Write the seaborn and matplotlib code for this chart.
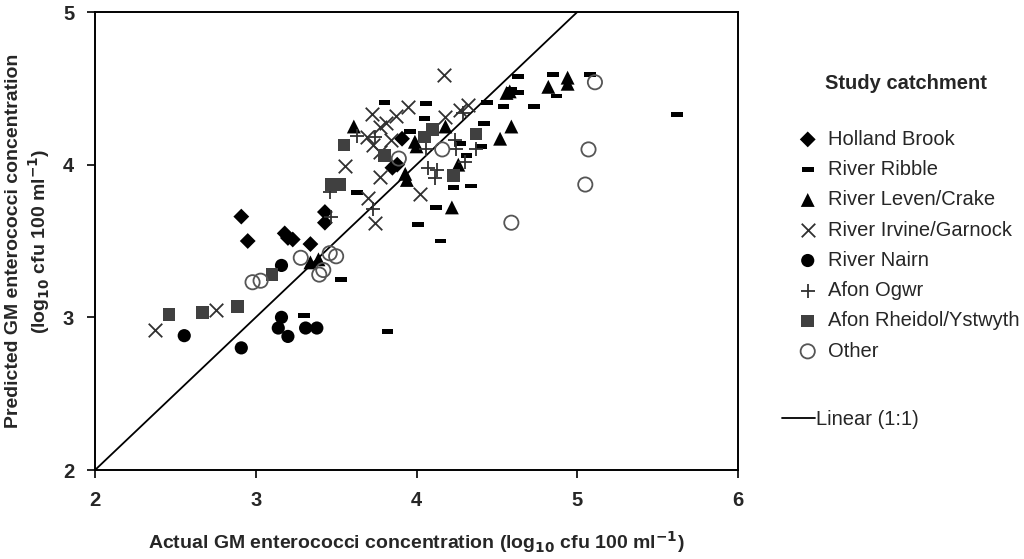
import numpy as np
import pandas as pd
import seaborn as sns
import matplotlib.pyplot as plt
from matplotlib.path import Path

# actual vs predicted GM enterococci (log10 cfu 100 ml-1)
holland_x = [2.91, 2.95, 3.18, 3.20, 3.23, 3.34, 3.43, 3.43, 3.91, 3.85, 3.88]
holland_y = [3.66, 3.50, 3.55, 3.52, 3.51, 3.48, 3.69, 3.62, 4.17, 3.98, 4.00]

ribble_x = [3.80, 4.06, 4.05, 3.96, 4.42, 4.27, 4.40, 4.31, 4.23, 4.34, 3.63, 4.12,
            4.01, 4.15, 3.53, 3.30, 3.82, 4.63, 4.85, 5.08, 4.87, 4.59, 4.63, 4.44,
            4.54, 4.73, 5.62]
ribble_y = [4.41, 4.40, 4.30, 4.22, 4.27, 4.14, 4.12, 4.06, 3.85, 3.86, 3.82, 3.72,
            3.61, 3.50, 3.25, 3.01, 2.91, 4.58, 4.59, 4.59, 4.45, 4.49, 4.47, 4.41,
            4.38, 4.38, 4.33]

leven_x = [3.61, 4.18, 4.00, 3.93, 3.94, 4.26, 4.22, 4.59, 4.52, 4.56, 4.58, 4.82,
           4.94, 4.94, 3.34, 3.39, 3.99]
leven_y = [4.25, 4.25, 4.12, 3.94, 3.90, 4.00, 3.72, 4.25, 4.17, 4.47, 4.48, 4.51,
           4.57, 4.53, 3.36, 3.38, 4.15]

irvine_x = [4.17, 3.95, 3.72, 3.87, 4.18, 4.27, 4.32, 3.77, 3.81, 3.69, 3.84, 3.73,
            3.555, 3.77, 4.02, 3.70, 3.74, 2.75, 2.37, 3.77]
irvine_y = [4.59, 4.38, 4.33, 4.32, 4.31, 4.36, 4.39, 4.25, 4.27, 4.18, 4.16, 4.13,
            3.99, 3.92, 3.81, 3.78, 3.62, 3.05, 2.92, 4.08]

nairn_x = [2.555, 2.91, 3.16, 3.14, 3.20, 3.31, 3.38, 3.16]
nairn_y = [2.88, 2.80, 3.00, 2.93, 2.875, 2.93, 2.93, 3.34]

ogwr_x = [3.63, 3.74, 4.24, 4.37, 4.06, 4.245, 4.30, 4.07, 4.125, 4.115, 3.46, 3.73,
          3.47, 4.29]
ogwr_y = [4.19, 4.18, 4.16, 4.10, 4.10, 4.10, 4.02, 3.98, 3.965, 3.91, 3.82, 3.71,
          3.66, 4.34]

rheidol_x = [4.10, 4.05, 4.37, 3.55, 3.80, 4.23, 3.47, 3.52, 3.10, 2.885, 2.67, 2.46]
rheidol_y = [4.23, 4.18, 4.20, 4.13, 4.06, 3.93, 3.87, 3.87, 3.28, 3.07, 3.03, 3.02]

other_x = [3.28, 3.46, 3.50, 3.42, 3.395, 2.98, 3.03, 3.89, 4.16, 5.11, 5.07, 5.05, 4.59]
other_y = [3.39, 3.42, 3.40, 3.31, 3.28, 3.23, 3.24, 4.04, 4.10, 4.54, 4.10, 3.87, 3.62]

line_x = [2, 5]

catchments = ["Holland Brook", "River Ribble", "River Leven/Crake", "River Irvine/Garnock",
              "River Nairn", "Afon Ogwr", "Afon Rheidol/Ystwyth", "Other"]
xs = [holland_x, ribble_x, leven_x, irvine_x, nairn_x, ogwr_x, rheidol_x, other_x]
ys = [holland_y, ribble_y, leven_y, irvine_y, nairn_y, ogwr_y, rheidol_y, other_y]

df = pd.concat([pd.DataFrame({"actual": x, "predicted": y, "catchment": c})
                for c, x, y in zip(catchments, xs, ys)], ignore_index=True)

dash = Path([(-1, -0.42), (1, -0.42), (1, 0.42), (-1, 0.42), (-1, -0.42)],
            [Path.MOVETO, Path.LINETO, Path.LINETO, Path.LINETO, Path.CLOSEPOLY])

styles = {
    "Holland Brook": dict(marker="D", s=65, color="black", edgecolor="none"),
    "River Ribble": dict(marker=dash, s=70, color="black", edgecolor="none"),
    "River Leven/Crake": dict(marker="^", s=100, color="black", edgecolor="none"),
    "River Irvine/Garnock": dict(marker="x", s=95, color="#303030", linewidth=1.3),
    "River Nairn": dict(marker="o", s=90, color="black", edgecolor="none"),
    "Afon Ogwr": dict(marker="+", s=105, color="#303030", linewidth=1.3),
    "Afon Rheidol/Ystwyth": dict(marker="s", s=82, color="#404040", edgecolor="none"),
    "Other": dict(marker="o", s=105, color="#555555", facecolor="none",
                  edgecolor="#555555", linewidth=1.3),
}

sns.set_style("white")
plt.rcParams["font.family"] = ["Liberation Sans", "DejaVu Sans"]
plt.rcParams["mathtext.default"] = "bf"

fig = plt.figure(figsize=(10.24, 5.59), dpi=100)
ax = fig.add_axes([0.0928, 0.1592, 0.6279, 0.8193])

for c in catchments:
    sub = df[df["catchment"] == c]
    sns.scatterplot(data=sub, x="actual", y="predicted", ax=ax, label=c, zorder=3, **styles[c])

sns.lineplot(x=line_x, y=line_x, ax=ax, color="black", linewidth=1.3, label="Linear (1:1)")

ax.set_xlim(2, 6)
ax.set_ylim(2, 5)
ax.set_xticks([2, 3, 4, 5, 6])
ax.set_yticks([2, 3, 4, 5])
ax.tick_params(direction="out", length=6, width=1.2, labelsize=14.5, color="black",
               left=True, bottom=True, pad=9)
for lab in ax.get_xticklabels() + ax.get_yticklabels():
    lab.set_fontweight("bold")
for sp in ax.spines.values():
    sp.set_color("black")
    sp.set_linewidth(1.4)

ax.set_xlabel("Actual GM enterococci concentration (log$_{10}$ cfu 100 ml$^{-1}$)",
              fontsize=14, fontweight="bold", labelpad=14)
ax.set_ylabel("Predicted GM enterococci concentration\n(log$_{10}$ cfu 100 ml$^{-1}$)",
              fontsize=14, fontweight="bold", labelpad=8)

handles, labels = ax.get_legend_handles_labels()
leg1 = ax.legend(handles[:8], labels[:8], loc="upper left", bbox_to_anchor=(0.777, 0.768),
                 bbox_transform=fig.transFigure, frameon=False, fontsize=14.5,
                 labelspacing=0.56, handlelength=1.2, handletextpad=0.42,
                 borderpad=0, borderaxespad=0)
ax.add_artist(leg1)
ax.legend(handles[8:], labels[8:], loc="upper left", bbox_to_anchor=(0.764, 0.266),
          bbox_transform=fig.transFigure, frameon=False, fontsize=14.5,
          handlelength=1.6, handletextpad=0.05, borderpad=0, borderaxespad=0)

fig.text(0.885, 0.851, "Study catchment", ha="center", va="center",
         fontsize=14.5, fontweight="bold")

fig.savefig("out.png", dpi=100)
